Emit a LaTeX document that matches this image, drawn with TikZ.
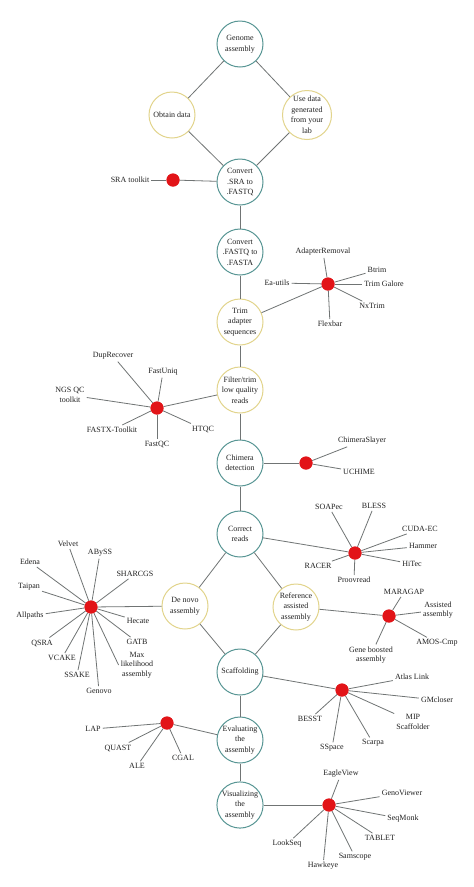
\documentclass[tikz,border=0pt]{standalone}
\usepackage{fontspec}
\setmainfont{Liberation Serif}
\definecolor{tealc}{RGB}{88,150,148}
\definecolor{goldc}{RGB}{226,212,140}
\definecolor{redc}{RGB}{226,20,24}
\definecolor{linec}{RGB}{112,116,116}
\definecolor{txtc}{RGB}{34,34,34}
\tikzset{
  tcirc/.style={circle, draw=tealc, line width=1pt, minimum size=46pt, inner sep=0pt, align=center, text=txtc, font=\fontsize{8}{10.5}\selectfont},
  ycirc/.style={tcirc, draw=goldc},
  rdot/.style={circle, fill=redc, minimum size=13pt, inner sep=0pt},
  lbl/.style={inner sep=2pt, align=center, text=txtc, font=\fontsize{8}{9.5}\selectfont},
  ln/.style={draw=linec, line width=0.8pt}
}
\begin{document}
\begin{tikzpicture}[x=1pt,y=-1pt]
\useasboundingbox[fill=white] (0,0) rectangle (474,887);
% main circles
\node[tcirc] (g)  at (240,44)  {Genome\\assembly};
\node[ycirc] (ob) at (172,115) {Obtain data};
\node[ycirc] (us) at (307,115) {Use data\\generated\\from your\\lab};
\node[tcirc] (c1) at (240,182) {Convert\\.SRA to\\.FASTQ};
\node[tcirc] (c2) at (240,252) {Convert\\.FASTQ to\\.FASTA};
\node[ycirc] (tr) at (240,322) {Trim\\adapter\\sequences};
\node[ycirc] (fi) at (240,390) {Filter/trim\\low quality\\reads};
\node[tcirc] (ch) at (240,463) {Chimera\\detection};
\node[tcirc] (co) at (240,534) {Correct\\reads};
\node[ycirc] (dn) at (185,606) {De novo\\assembly};
\node[ycirc] (ra) at (296,607) {Reference\\assisted\\assembly};
\node[tcirc] (sc) at (240,672) {Scaffolding};
\node[tcirc] (ev) at (240,740) {Evaluating\\the\\assembly};
\node[tcirc] (vi) at (240,805) {Visualizing\\the\\assembly};
% main connectors
\draw[ln] (g) -- (ob);
\draw[ln] (g) -- (us);
\draw[ln] (ob) -- (c1);
\draw[ln] (us) -- (c1);
\draw[ln] (c1) -- (c2);
\draw[ln] (c2) -- (tr);
\draw[ln] (tr) -- (fi);
\draw[ln] (fi) -- (ch);
\draw[ln] (ch) -- (co);
\draw[ln] (co) -- (dn);
\draw[ln] (co) -- (ra);
\draw[ln] (dn) -- (sc);
\draw[ln] (ra) -- (sc);
\draw[ln] (sc) -- (ev);
\draw[ln] (ev) -- (vi);
% hubs
\node[rdot] (d1)  at (173,180) {};
\node[rdot] (d2)  at (328,284) {};
\node[rdot] (d3)  at (157,408) {};
\node[rdot] (d4)  at (306,463) {};
\node[rdot] (d5)  at (355,553) {};
\node[rdot] (d6)  at (91,607)  {};
\node[rdot] (d7)  at (389,616) {};
\node[rdot] (d8)  at (342,690) {};
\node[rdot] (d9)  at (167,723) {};
\node[rdot] (d10) at (329,805) {};
\foreach \a/\b in {c1/d1,tr/d2,fi/d3,ch/d4,co/d5,dn/d6,ra/d7,sc/d8,ev/d9,vi/d10}
  \draw[ln] (\a) -- (\b);
% labels
\node[lbl] (l1) at (130,180) {SRA toolkit};
% trim
\node[lbl] (t1) at (323,252) {AdapterRemoval};
\node[lbl] (t2) at (377,270) {Btrim};
\node[lbl] (t3) at (384,284) {Trim Galore};
\node[lbl] (t4) at (372,306) {NxTrim};
\node[lbl] (t5) at (330,324) {Flexbar};
\node[lbl] (t6) at (277,283) {Ea-utils};
% filter
\node[lbl] (f1) at (113,356) {DupRecover};
\node[lbl] (f2) at (163,372) {FastUniq};
\node[lbl] (f3) at (70,395)  {NGS QC\\toolkit};
\node[lbl] (f4) at (112,430) {FASTX-Toolkit};
\node[lbl] (f5) at (157,444) {FastQC};
\node[lbl] (f6) at (203,429) {HTQC};
% chimera
\node[lbl] (h1) at (362,441) {ChimeraSlayer};
\node[lbl] (h2) at (359,472) {UCHIME};
% correct
\node[lbl] (k1) at (329,507) {SOAPec};
\node[lbl] (k2) at (374,506) {BLESS};
\node[lbl] (k3) at (420,529) {CUDA-EC};
\node[lbl] (k4) at (423,546) {Hammer};
\node[lbl] (k5) at (412,564) {HiTec};
\node[lbl] (k6) at (318,566) {RACER};
\node[lbl] (k7) at (354,580) {Proovread};
% de novo
\node[lbl] (n1)  at (68,544)  {Velvet};
\node[lbl] (n2)  at (100,553) {ABySS};
\node[lbl] (n3)  at (30,562)  {Edena};
\node[lbl] (n4)  at (135,574) {SHARCGS};
\node[lbl] (n5)  at (29,587)  {Taipan};
\node[lbl] (n6)  at (30,616)  {Allpaths};
\node[lbl] (n7)  at (138,621) {Hecate};
\node[lbl] (n8)  at (42,643)  {QSRA};
\node[lbl] (n9)  at (137,642) {GATB};
\node[lbl] (n10) at (62,658)  {VCAKE};
\node[lbl] (n11) at (137,665) {Max\\likelihood\\assembly};
\node[lbl] (n12) at (77,675)  {SSAKE};
\node[lbl] (n13) at (99,691)  {Genovo};
% reference
\node[lbl] (r1) at (404,592) {MARAGAP};
\node[lbl] (r2) at (438,610) {Assisted\\assembly};
\node[lbl] (r3) at (437,643) {AMOS-Cmp};
\node[lbl] (r4) at (371,655) {Gene boosted\\assembly};
% scaffolding
\node[lbl] (s1) at (412,677) {Atlas Link};
\node[lbl] (s2) at (437,700) {GMcloser};
\node[lbl] (s3) at (413,722) {MIP\\Scaffolder};
\node[lbl] (s4) at (373,743) {Scarpa};
\node[lbl] (s5) at (332,748) {SSpace};
\node[lbl] (s6) at (310,719) {BESST};
% evaluating
\node[lbl] (e1) at (93,729)  {LAP};
\node[lbl] (e2) at (118,748) {QUAST};
\node[lbl] (e3) at (137,766) {ALE};
\node[lbl] (e4) at (183,758) {CGAL};
% visualizing
\node[lbl] (v1) at (341,774) {EagleView};
\node[lbl] (v2) at (402,793) {GenoViewer};
\node[lbl] (v3) at (403,819) {SeqMonk};
\node[lbl] (v4) at (380,838) {TABLET};
\node[lbl] (v5) at (355,857) {Samscope};
\node[lbl] (v6) at (323,866) {Hawkeye};
\node[lbl] (v7) at (287,844) {LookSeq};
% spokes
\draw[ln] (d1) -- (l1);
\foreach \t in {t1,t2,t3,t4,t5,t6} \draw[ln] (d2) -- (\t);
\foreach \t in {f1,f2,f3,f4,f5,f6} \draw[ln] (d3) -- (\t);
\foreach \t in {h1,h2} \draw[ln] (d4) -- (\t);
\foreach \t in {k1,k2,k3,k4,k5,k6,k7} \draw[ln] (d5) -- (\t);
\foreach \t in {n1,n2,n3,n4,n5,n6,n7,n8,n9,n10,n12,n13} \draw[ln] (d6) -- (\t);
\draw[ln] (d6) -- (n11.west);
\foreach \t in {r1,r2,r3,r4} \draw[ln] (d7) -- (\t);
\foreach \t in {s1,s2,s3,s4,s5,s6} \draw[ln] (d8) -- (\t);
\foreach \t in {e1,e2,e3,e4} \draw[ln] (d9) -- (\t);
\foreach \t in {v1,v2,v3,v4,v5,v6,v7} \draw[ln] (d10) -- (\t);
% redraw hubs on top
\foreach \d in {d1,d2,d3,d4,d5,d6,d7,d8,d9,d10} \fill[redc] (\d) circle (6.5pt);
\end{tikzpicture}
\end{document}
